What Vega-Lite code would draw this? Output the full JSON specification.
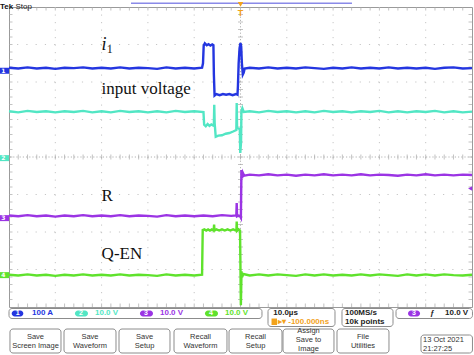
{
  "$schema": "https://vega.github.io/schema/vega-lite/v6.json",
  "width": 463,
  "height": 300,
  "autosize": {"type": "none"},
  "padding": {"left": 9, "top": 7, "right": 2, "bottom": 48},
  "background": "white",
  "config": {"view": {"stroke": "#9a9a9a", "strokeWidth": 1}, "axis": {"disable": true}},
  "datasets": {
    "gx": [-4, -3, -2, -1, 1, 2, 3, 4],
    "gy": [-3, -2, -1, 1, 2, 3],
    "mx": [-4.8, -4.6, -4.4, -4.2, -4, -3.8, -3.6, -3.4, -3.2, -3, -2.8, -2.6, -2.4, -2.2, -2, -1.8, -1.6, -1.4, -1.2, -1, -0.8, -0.6, -0.4, -0.2, 0, 0.2, 0.4, 0.6, 0.8, 1, 1.2, 1.4, 1.6, 1.8, 2, 2.2, 2.4, 2.6, 2.8, 3, 3.2, 3.4, 3.6, 3.8, 4, 4.2, 4.4, 4.6, 4.8],
    "my": [-3.8, -3.6, -3.4, -3.2, -3, -2.8, -2.6, -2.4, -2.2, -2, -1.8, -1.6, -1.4, -1.2, -1, -0.8, -0.6, -0.4, -0.2, 0, 0.2, 0.4, 0.6, 0.8, 1, 1.2, 1.4, 1.6, 1.8, 2, 2.2, 2.4, 2.6, 2.8, 3, 3.2, 3.4, 3.6, 3.8],
    "w": [
      {"c":"1","t":-5,"v":2.38},{"c":"1","t":-4.8,"v":2.36},{"c":"1","t":-4.6,"v":2.39},{"c":"1","t":-4.4,"v":2.36},{"c":"1","t":-4.2,"v":2.38},{"c":"1","t":-4,"v":2.35},{"c":"1","t":-3.8,"v":2.38},{"c":"1","t":-3.6,"v":2.37},{"c":"1","t":-3.4,"v":2.39},{"c":"1","t":-3.2,"v":2.36},{"c":"1","t":-3,"v":2.38},{"c":"1","t":-2.8,"v":2.36},{"c":"1","t":-2.6,"v":2.39},{"c":"1","t":-2.4,"v":2.36},{"c":"1","t":-2.2,"v":2.38},{"c":"1","t":-2,"v":2.37},{"c":"1","t":-1.8,"v":2.35},{"c":"1","t":-1.6,"v":2.39},{"c":"1","t":-1.4,"v":2.36},{"c":"1","t":-1.2,"v":2.38},{"c":"1","t":-1,"v":2.36},{"c":"1","t":-0.83,"v":2.38},{"c":"1","t":-0.81,"v":2.5},{"c":"1","t":-0.795,"v":2.97},{"c":"1","t":-0.77,"v":3.03},{"c":"1","t":-0.73,"v":2.98},{"c":"1","t":-0.69,"v":3.01},{"c":"1","t":-0.65,"v":2.97},{"c":"1","t":-0.61,"v":3.0},{"c":"1","t":-0.585,"v":2.98},{"c":"1","t":-0.575,"v":2.2},{"c":"1","t":-0.56,"v":1.64},{"c":"1","t":-0.52,"v":1.68},{"c":"1","t":-0.45,"v":1.65},{"c":"1","t":-0.38,"v":1.68},{"c":"1","t":-0.31,"v":1.66},{"c":"1","t":-0.24,"v":1.68},{"c":"1","t":-0.17,"v":1.65},{"c":"1","t":-0.1,"v":1.68},{"c":"1","t":-0.065,"v":1.66},{"c":"1","t":-0.055,"v":1.9},{"c":"1","t":-0.04,"v":2.5},{"c":"1","t":-0.02,"v":2.9},{"c":"1","t":0,"v":3.04},{"c":"1","t":0.015,"v":2.95},{"c":"1","t":0.03,"v":2.5},{"c":"1","t":0.05,"v":2.2},{"c":"1","t":0.07,"v":2.25},{"c":"1","t":0.09,"v":2.36},{"c":"1","t":0.2,"v":2.38},{"c":"1","t":0.4,"v":2.36},{"c":"1","t":0.6,"v":2.39},{"c":"1","t":0.8,"v":2.36},{"c":"1","t":1,"v":2.38},{"c":"1","t":1.2,"v":2.36},{"c":"1","t":1.4,"v":2.39},{"c":"1","t":1.6,"v":2.37},{"c":"1","t":1.8,"v":2.35},{"c":"1","t":2,"v":2.38},{"c":"1","t":2.2,"v":2.36},{"c":"1","t":2.4,"v":2.39},{"c":"1","t":2.6,"v":2.36},{"c":"1","t":2.8,"v":2.38},{"c":"1","t":3,"v":2.36},{"c":"1","t":3.2,"v":2.39},{"c":"1","t":3.4,"v":2.36},{"c":"1","t":3.6,"v":2.38},{"c":"1","t":3.8,"v":2.36},{"c":"1","t":4,"v":2.38},{"c":"1","t":4.2,"v":2.35},{"c":"1","t":4.4,"v":2.38},{"c":"1","t":4.6,"v":2.39},{"c":"1","t":4.8,"v":2.36},{"c":"1","t":5,"v":2.37},
      {"c":"2","t":-5,"v":1.22},{"c":"2","t":-4.8,"v":1.19},{"c":"2","t":-4.6,"v":1.23},{"c":"2","t":-4.4,"v":1.2},{"c":"2","t":-4.2,"v":1.22},{"c":"2","t":-4,"v":1.19},{"c":"2","t":-3.8,"v":1.22},{"c":"2","t":-3.6,"v":1.2},{"c":"2","t":-3.4,"v":1.23},{"c":"2","t":-3.2,"v":1.19},{"c":"2","t":-3,"v":1.22},{"c":"2","t":-2.8,"v":1.19},{"c":"2","t":-2.6,"v":1.23},{"c":"2","t":-2.4,"v":1.2},{"c":"2","t":-2.2,"v":1.22},{"c":"2","t":-2,"v":1.19},{"c":"2","t":-1.8,"v":1.22},{"c":"2","t":-1.6,"v":1.19},{"c":"2","t":-1.4,"v":1.23},{"c":"2","t":-1.2,"v":1.2},{"c":"2","t":-1,"v":1.22},{"c":"2","t":-0.8,"v":1.2},{"c":"2","t":-0.785,"v":0.86},{"c":"2","t":-0.75,"v":0.82},{"c":"2","t":-0.71,"v":0.88},{"c":"2","t":-0.67,"v":0.83},{"c":"2","t":-0.63,"v":0.87},{"c":"2","t":-0.59,"v":0.84},{"c":"2","t":-0.575,"v":0.86},{"c":"2","t":-0.567,"v":1.39},{"c":"2","t":-0.558,"v":0.9},{"c":"2","t":-0.535,"v":0.54},{"c":"2","t":-0.48,"v":0.57},{"c":"2","t":-0.4,"v":0.58},{"c":"2","t":-0.32,"v":0.62},{"c":"2","t":-0.24,"v":0.64},{"c":"2","t":-0.16,"v":0.68},{"c":"2","t":-0.09,"v":0.72},{"c":"2","t":-0.082,"v":1.44},{"c":"2","t":-0.074,"v":0.78},{"c":"2","t":-0.04,"v":0.76},{"c":"2","t":-0.015,"v":0.74},{"c":"2","t":-0.005,"v":0.11},{"c":"2","t":0.012,"v":0.4},{"c":"2","t":0.02,"v":1.22},{"c":"2","t":0.04,"v":1.3},{"c":"2","t":0.07,"v":1.2},{"c":"2","t":0.2,"v":1.22},{"c":"2","t":0.4,"v":1.19},{"c":"2","t":0.6,"v":1.23},{"c":"2","t":0.8,"v":1.2},{"c":"2","t":1,"v":1.22},{"c":"2","t":1.2,"v":1.19},{"c":"2","t":1.4,"v":1.22},{"c":"2","t":1.6,"v":1.19},{"c":"2","t":1.8,"v":1.23},{"c":"2","t":2,"v":1.2},{"c":"2","t":2.2,"v":1.22},{"c":"2","t":2.4,"v":1.19},{"c":"2","t":2.6,"v":1.22},{"c":"2","t":2.8,"v":1.2},{"c":"2","t":3,"v":1.23},{"c":"2","t":3.2,"v":1.19},{"c":"2","t":3.4,"v":1.22},{"c":"2","t":3.6,"v":1.19},{"c":"2","t":3.8,"v":1.22},{"c":"2","t":4,"v":1.2},{"c":"2","t":4.2,"v":1.23},{"c":"2","t":4.4,"v":1.19},{"c":"2","t":4.6,"v":1.22},{"c":"2","t":4.8,"v":1.19},{"c":"2","t":5,"v":1.21},
      {"c":"3","t":-5,"v":-1.56},{"c":"3","t":-4.8,"v":-1.58},{"c":"3","t":-4.6,"v":-1.55},{"c":"3","t":-4.4,"v":-1.58},{"c":"3","t":-4.2,"v":-1.56},{"c":"3","t":-4,"v":-1.59},{"c":"3","t":-3.8,"v":-1.56},{"c":"3","t":-3.6,"v":-1.58},{"c":"3","t":-3.4,"v":-1.55},{"c":"3","t":-3.2,"v":-1.58},{"c":"3","t":-3,"v":-1.56},{"c":"3","t":-2.8,"v":-1.58},{"c":"3","t":-2.6,"v":-1.55},{"c":"3","t":-2.4,"v":-1.58},{"c":"3","t":-2.2,"v":-1.56},{"c":"3","t":-2,"v":-1.57},{"c":"3","t":-1.8,"v":-1.59},{"c":"3","t":-1.6,"v":-1.55},{"c":"3","t":-1.4,"v":-1.58},{"c":"3","t":-1.2,"v":-1.56},{"c":"3","t":-1,"v":-1.58},{"c":"3","t":-0.8,"v":-1.56},{"c":"3","t":-0.6,"v":-1.58},{"c":"3","t":-0.4,"v":-1.55},{"c":"3","t":-0.2,"v":-1.57},{"c":"3","t":-0.09,"v":-1.56},{"c":"3","t":-0.082,"v":-1.23},{"c":"3","t":-0.074,"v":-1.58},{"c":"3","t":-0.04,"v":-1.56},{"c":"3","t":-0.01,"v":-1.58},{"c":"3","t":0.008,"v":-1.62},{"c":"3","t":0.02,"v":-0.35},{"c":"3","t":0.035,"v":-0.56},{"c":"3","t":0.05,"v":-0.42},{"c":"3","t":0.08,"v":-0.5},{"c":"3","t":0.2,"v":-0.47},{"c":"3","t":0.4,"v":-0.49},{"c":"3","t":0.6,"v":-0.46},{"c":"3","t":0.8,"v":-0.49},{"c":"3","t":1,"v":-0.47},{"c":"3","t":1.2,"v":-0.5},{"c":"3","t":1.4,"v":-0.47},{"c":"3","t":1.6,"v":-0.49},{"c":"3","t":1.8,"v":-0.46},{"c":"3","t":2,"v":-0.49},{"c":"3","t":2.2,"v":-0.47},{"c":"3","t":2.4,"v":-0.49},{"c":"3","t":2.6,"v":-0.46},{"c":"3","t":2.8,"v":-0.49},{"c":"3","t":3,"v":-0.47},{"c":"3","t":3.2,"v":-0.48},{"c":"3","t":3.4,"v":-0.5},{"c":"3","t":3.6,"v":-0.47},{"c":"3","t":3.8,"v":-0.49},{"c":"3","t":4,"v":-0.46},{"c":"3","t":4.2,"v":-0.49},{"c":"3","t":4.4,"v":-0.47},{"c":"3","t":4.6,"v":-0.49},{"c":"3","t":4.8,"v":-0.47},{"c":"3","t":5,"v":-0.48},
      {"c":"4","t":-5,"v":-3.14},{"c":"4","t":-4.8,"v":-3.16},{"c":"4","t":-4.6,"v":-3.13},{"c":"4","t":-4.4,"v":-3.16},{"c":"4","t":-4.2,"v":-3.14},{"c":"4","t":-4,"v":-3.17},{"c":"4","t":-3.8,"v":-3.14},{"c":"4","t":-3.6,"v":-3.16},{"c":"4","t":-3.4,"v":-3.13},{"c":"4","t":-3.2,"v":-3.16},{"c":"4","t":-3,"v":-3.14},{"c":"4","t":-2.8,"v":-3.16},{"c":"4","t":-2.6,"v":-3.13},{"c":"4","t":-2.4,"v":-3.16},{"c":"4","t":-2.2,"v":-3.14},{"c":"4","t":-2,"v":-3.15},{"c":"4","t":-1.8,"v":-3.17},{"c":"4","t":-1.6,"v":-3.13},{"c":"4","t":-1.4,"v":-3.16},{"c":"4","t":-1.2,"v":-3.14},{"c":"4","t":-1,"v":-3.16},{"c":"4","t":-0.83,"v":-3.14},{"c":"4","t":-0.816,"v":-1.95},{"c":"4","t":-0.78,"v":-1.93},{"c":"4","t":-0.74,"v":-1.96},{"c":"4","t":-0.7,"v":-1.93},{"c":"4","t":-0.66,"v":-1.96},{"c":"4","t":-0.62,"v":-1.93},{"c":"4","t":-0.58,"v":-1.96},{"c":"4","t":-0.57,"v":-1.8},{"c":"4","t":-0.562,"v":-1.96},{"c":"4","t":-0.52,"v":-1.93},{"c":"4","t":-0.46,"v":-1.96},{"c":"4","t":-0.4,"v":-1.93},{"c":"4","t":-0.34,"v":-1.96},{"c":"4","t":-0.28,"v":-1.93},{"c":"4","t":-0.22,"v":-1.96},{"c":"4","t":-0.16,"v":-1.93},{"c":"4","t":-0.1,"v":-1.96},{"c":"4","t":-0.088,"v":-1.94},{"c":"4","t":-0.082,"v":-1.72},{"c":"4","t":-0.075,"v":-1.97},{"c":"4","t":-0.04,"v":-1.93},{"c":"4","t":-0.01,"v":-1.96},{"c":"4","t":0.008,"v":-3.95},{"c":"4","t":0.022,"v":-3.05},{"c":"4","t":0.035,"v":-3.2},{"c":"4","t":0.06,"v":-3.12},{"c":"4","t":0.2,"v":-3.16},{"c":"4","t":0.4,"v":-3.13},{"c":"4","t":0.6,"v":-3.16},{"c":"4","t":0.8,"v":-3.13},{"c":"4","t":1,"v":-3.15},{"c":"4","t":1.2,"v":-3.17},{"c":"4","t":1.4,"v":-3.13},{"c":"4","t":1.6,"v":-3.16},{"c":"4","t":1.8,"v":-3.13},{"c":"4","t":2,"v":-3.16},{"c":"4","t":2.2,"v":-3.14},{"c":"4","t":2.4,"v":-3.16},{"c":"4","t":2.6,"v":-3.13},{"c":"4","t":2.8,"v":-3.16},{"c":"4","t":3,"v":-3.13},{"c":"4","t":3.2,"v":-3.15},{"c":"4","t":3.4,"v":-3.17},{"c":"4","t":3.6,"v":-3.13},{"c":"4","t":3.8,"v":-3.16},{"c":"4","t":4,"v":-3.13},{"c":"4","t":4.2,"v":-3.16},{"c":"4","t":4.4,"v":-3.13},{"c":"4","t":4.6,"v":-3.15},{"c":"4","t":4.8,"v":-3.16},{"c":"4","t":5,"v":-3.14}
    ],
    "mk": [{"c":"1","v":2.3,"n":"1"},{"c":"2","v":-0.03,"n":"2"},{"c":"3","v":-1.63,"n":"3"},{"c":"4","v":-3.15,"n":"4"}],
    "lab": [{"t":-3.0,"v":1.68,"text":"input voltage"},{"t":-3.0,"v":-1.16,"text":"R"},{"t":-3.0,"v":-2.707,"text":"Q-EN"}],
    "frames": [
      {"x1":-5.0,"x2":0.464,"y1":-4.04,"y2":-4.307},
      {"x1":0.594,"x2":2.041,"y1":-4.04,"y2":-4.52},
      {"x1":2.192,"x2":3.294,"y1":-4.04,"y2":-4.52},
      {"x1":3.359,"x2":5.01,"y1":-4.04,"y2":-4.307},
      {"x1":-4.979,"x2":-3.877,"y1":-4.587,"y2":-5.227},
      {"x1":-3.812,"x2":-2.689,"y1":-4.587,"y2":-5.227},
      {"x1":-2.624,"x2":-1.523,"y1":-4.587,"y2":-5.227},
      {"x1":-1.436,"x2":-0.292,"y1":-4.587,"y2":-5.227},
      {"x1":-0.248,"x2":0.896,"y1":-4.587,"y2":-5.227},
      {"x1":0.918,"x2":2.019,"y1":-4.587,"y2":-5.227},
      {"x1":2.084,"x2":3.207,"y1":-4.587,"y2":-5.227},
      {"x1":3.898,"x2":5.01,"y1":-4.747,"y2":-5.227}
    ],
    "pills": [
      {"c":"1","x1":-4.941,"x2":-4.691,"n":"1"},
      {"c":"2","x1":-3.575,"x2":-3.294,"n":"2"},
      {"c":"3","x1":-2.171,"x2":-1.89,"n":"3"},
      {"c":"4","x1":-0.767,"x2":-0.486,"n":"4"},
      {"c":"3","x1":3.618,"x2":3.877,"n":"3"}
    ],
    "ro": [
      {"c":"1","t":-4.503,"text":"100 A"},
      {"c":"2","t":-3.143,"text":"10.0 V"},
      {"c":"3","t":-1.739,"text":"10.0 V"},
      {"c":"4","t":-0.335,"text":"10.0 V"}
    ],
    "rk": [
      {"t":0.708,"v":-4.173,"text":"10.0µs"},
      {"t":2.257,"v":-4.173,"text":"100MS/s"},
      {"t":2.257,"v":-4.4,"text":"10k points"},
      {"t":4.093,"v":-4.173,"text":"ƒ"},
      {"t":4.417,"v":-4.173,"text":"10.0 V"}
    ],
    "btn": [
      {"t":-4.428,"v":-4.787,"text":"Save"},{"t":-4.428,"v":-5.027,"text":"Screen Image"},
      {"t":-3.251,"v":-4.787,"text":"Save"},{"t":-3.251,"v":-5.027,"text":"Waveform"},
      {"t":-2.073,"v":-4.787,"text":"Save"},{"t":-2.073,"v":-5.027,"text":"Setup"},
      {"t":-0.864,"v":-4.787,"text":"Recall"},{"t":-0.864,"v":-5.027,"text":"Waveform"},
      {"t":0.324,"v":-4.787,"text":"Recall"},{"t":0.324,"v":-5.027,"text":"Setup"},
      {"t":1.469,"v":-4.653,"text":"Assign"},{"t":1.469,"v":-4.88,"text":"Save to"},{"t":1.469,"v":-5.107,"text":"Image"},
      {"t":2.646,"v":-4.787,"text":"File"},{"t":2.646,"v":-5.027,"text":"Utilities"}
    ],
    "date": [{"t":3.942,"v":-4.88,"text":"13 Oct  2021"},{"t":3.942,"v":-5.12,"text":"21:27:25"}]
  },
  "layer": [
    {
      "data": {"name": "gx"},
      "mark": {"type": "rule", "color": "#c6c6c6", "strokeDash": [1.2, 6.3], "strokeWidth": 1},
      "encoding": {"x": {"field": "data", "type": "quantitative", "scale": {"domain": [-5, 5], "nice": false, "zero": false}}}
    },
    {
      "data": {"name": "gy"},
      "mark": {"type": "rule", "color": "#c6c6c6", "strokeDash": [1.2, 8.06], "strokeWidth": 1},
      "encoding": {"y": {"field": "data", "type": "quantitative", "scale": {"domain": [-4, 4], "nice": false, "zero": false}}}
    },
    {
      "data": {"values": [{}]},
      "mark": {"type": "rule", "color": "#b4b4b4", "strokeDash": [1.2, 2], "strokeWidth": 1},
      "encoding": {"x": {"datum": 0, "type": "quantitative"}}
    },
    {
      "data": {"values": [{}]},
      "mark": {"type": "rule", "color": "#b4b4b4", "strokeDash": [1.2, 2], "strokeWidth": 1},
      "encoding": {"y": {"datum": 0, "type": "quantitative"}}
    },
    {
      "data": {"name": "mx"},
      "mark": {"type": "tick", "orient": "vertical", "size": 5, "thickness": 1, "color": "#aaaaaa"},
      "encoding": {"x": {"field": "data", "type": "quantitative"}, "y": {"datum": 0, "type": "quantitative"}}
    },
    {
      "data": {"name": "my"},
      "mark": {"type": "tick", "orient": "horizontal", "size": 5, "thickness": 1, "color": "#aaaaaa"},
      "encoding": {"y": {"field": "data", "type": "quantitative"}, "x": {"datum": 0, "type": "quantitative"}}
    },
    {
      "data": {"name": "mx"},
      "mark": {"type": "tick", "orient": "vertical", "size": 7, "thickness": 1, "color": "#aaaaaa", "clip": true},
      "encoding": {"x": {"field": "data", "type": "quantitative"}, "y": {"datum": 4, "type": "quantitative"}}
    },
    {
      "data": {"name": "mx"},
      "mark": {"type": "tick", "orient": "vertical", "size": 7, "thickness": 1, "color": "#aaaaaa", "clip": true},
      "encoding": {"x": {"field": "data", "type": "quantitative"}, "y": {"datum": -4, "type": "quantitative"}}
    },
    {
      "data": {"name": "my"},
      "mark": {"type": "tick", "orient": "horizontal", "size": 7, "thickness": 1, "color": "#aaaaaa", "clip": true},
      "encoding": {"y": {"field": "data", "type": "quantitative"}, "x": {"datum": -5, "type": "quantitative"}}
    },
    {
      "data": {"name": "my"},
      "mark": {"type": "tick", "orient": "horizontal", "size": 7, "thickness": 1, "color": "#aaaaaa", "clip": true},
      "encoding": {"y": {"field": "data", "type": "quantitative"}, "x": {"datum": 5, "type": "quantitative"}}
    },
    {
      "data": {"name": "w"},
      "mark": {"type": "line", "strokeWidth": 2.4, "strokeJoin": "miter"},
      "encoding": {
        "x": {"field": "t", "type": "quantitative"},
        "y": {"field": "v", "type": "quantitative"},
        "color": {"field": "c", "type": "nominal", "legend": null, "scale": {"domain": ["1", "2", "3", "4"], "range": ["#2436e0", "#52e6c4", "#9b34e4", "#5fe22c"]}}
      }
    },
    {
      "data": {"name": "mk"},
      "mark": {"type": "tick", "orient": "horizontal", "size": 9, "thickness": 6, "opacity": 1},
      "encoding": {
        "x": {"datum": -5.097, "type": "quantitative"},
        "y": {"field": "v", "type": "quantitative"},
        "color": {"field": "c", "type": "nominal", "legend": null}
      }
    },
    {
      "data": {"name": "mk"},
      "mark": {"type": "text", "fontSize": 6, "font": "DejaVu Sans", "fontWeight": "bold", "color": "white", "baseline": "middle", "align": "center"},
      "encoding": {
        "x": {"datum": -5.12, "type": "quantitative"},
        "y": {"field": "v", "type": "quantitative"},
        "text": {"field": "n"}
      }
    },
    {
      "data": {"values": [{}]},
      "mark": {"type": "point", "shape": "triangle-left", "filled": true, "size": 22, "color": "#9b34e4", "opacity": 1},
      "encoding": {"x": {"datum": 4.96, "type": "quantitative"}, "y": {"datum": -0.84, "type": "quantitative"}}
    },
    {
      "data": {"name": "lab"},
      "mark": {"type": "text", "font": "Liberation Serif", "fontSize": 17, "color": "#111111", "align": "left", "baseline": "alphabetic"},
      "encoding": {"x": {"field": "t", "type": "quantitative"}, "y": {"field": "v", "type": "quantitative"}, "text": {"field": "text"}}
    },
    {
      "data": {"values": [{"t": -3.0, "v": 2.853, "text": "i"}]},
      "mark": {"type": "text", "font": "Liberation Serif", "fontStyle": "italic", "fontSize": 18, "color": "#111111", "align": "left", "baseline": "alphabetic"},
      "encoding": {"x": {"field": "t", "type": "quantitative"}, "y": {"field": "v", "type": "quantitative"}, "text": {"field": "text"}}
    },
    {
      "data": {"values": [{"t": -2.887, "v": 2.773, "text": "1"}]},
      "mark": {"type": "text", "font": "Liberation Serif", "fontSize": 12, "color": "#111111", "align": "left", "baseline": "alphabetic"},
      "encoding": {"x": {"field": "t", "type": "quantitative"}, "y": {"field": "v", "type": "quantitative"}, "text": {"field": "text"}}
    },
    {
      "data": {"values": [{"t": -5.194, "v": 3.96, "text": "Tek"}]},
      "mark": {"type": "text", "font": "Liberation Sans", "fontWeight": "bold", "fontSize": 8, "color": "#111111", "align": "left", "baseline": "alphabetic"},
      "encoding": {"x": {"field": "t", "type": "quantitative"}, "y": {"field": "v", "type": "quantitative"}, "text": {"field": "text"}}
    },
    {
      "data": {"values": [{"t": -4.86, "v": 3.96, "text": "Stop"}]},
      "mark": {"type": "text", "font": "Liberation Sans", "fontSize": 8, "color": "#222222", "align": "left", "baseline": "alphabetic"},
      "encoding": {"x": {"field": "t", "type": "quantitative"}, "y": {"field": "v", "type": "quantitative"}, "text": {"field": "text"}}
    },
    {
      "data": {"values": [{}]},
      "mark": {"type": "rule", "color": "#8a8ae8", "strokeWidth": 1.5},
      "encoding": {"x": {"datum": -2.365, "type": "quantitative"}, "x2": {"datum": 2.408}, "y": {"datum": 4.1, "type": "quantitative"}}
    },
    {
      "data": {"values": [{}]},
      "mark": {"type": "point", "shape": "triangle-down", "filled": true, "size": 30, "color": "#f2a21c", "opacity": 1},
      "encoding": {"x": {"datum": 0, "type": "quantitative"}, "y": {"datum": 4.07, "type": "quantitative"}}
    },
    {
      "data": {"values": [{"t": 0, "v": 3.83, "text": "T"}]},
      "mark": {"type": "text", "font": "Liberation Sans", "fontWeight": "bold", "fontSize": 9, "color": "#f2a21c", "align": "center", "baseline": "middle"},
      "encoding": {"x": {"field": "t", "type": "quantitative"}, "y": {"field": "v", "type": "quantitative"}, "text": {"field": "text"}}
    },
    {
      "data": {"name": "frames"},
      "mark": {"type": "rect", "fill": "white", "stroke": "#8c8c8c", "strokeWidth": 1, "cornerRadius": 3},
      "encoding": {
        "x": {"field": "x1", "type": "quantitative"}, "x2": {"field": "x2"},
        "y": {"field": "y1", "type": "quantitative"}, "y2": {"field": "y2"}
      }
    },
    {
      "data": {"name": "pills"},
      "mark": {"type": "rect", "cornerRadius": 3.5, "opacity": 1},
      "encoding": {
        "x": {"field": "x1", "type": "quantitative"}, "x2": {"field": "x2"},
        "y": {"datum": -4.093, "type": "quantitative"}, "y2": {"datum": -4.253},
        "color": {"field": "c", "type": "nominal", "legend": null}
      }
    },
    {
      "data": {"name": "pills"},
      "mark": {"type": "text", "font": "Liberation Sans", "fontWeight": "bold", "fontSize": 7, "color": "white", "align": "center", "baseline": "middle"},
      "encoding": {
        "x": {"field": "x1", "type": "quantitative"},
        "xOffset": {"value": 6},
        "y": {"datum": -4.173, "type": "quantitative"},
        "text": {"field": "n"}
      }
    },
    {
      "data": {"name": "ro"},
      "mark": {"type": "text", "font": "Liberation Sans", "fontWeight": "bold", "fontSize": 8, "align": "left", "baseline": "middle"},
      "encoding": {
        "x": {"field": "t", "type": "quantitative"},
        "y": {"datum": -4.173, "type": "quantitative"},
        "text": {"field": "text"},
        "color": {"field": "c", "type": "nominal", "legend": null}
      }
    },
    {
      "data": {"name": "rk"},
      "mark": {"type": "text", "font": "Liberation Sans", "fontWeight": "bold", "fontSize": 8, "align": "left", "baseline": "middle", "color": "#222222"},
      "encoding": {
        "x": {"field": "t", "type": "quantitative"},
        "y": {"field": "v", "type": "quantitative"},
        "text": {"field": "text"}
      }
    },
    {
      "data": {"values": [{}]},
      "mark": {"type": "rect", "color": "#f2a21c", "opacity": 1},
      "encoding": {"x": {"datum": 0.67, "type": "quantitative"}, "x2": {"datum": 0.788}, "y": {"datum": -4.307, "type": "quantitative"}, "y2": {"datum": -4.48}}
    },
    {
      "data": {"values": [{"t": 0.81, "v": -4.4, "text": "▸▾ -100.000ns"}]},
      "mark": {"type": "text", "font": "Liberation Sans", "fontWeight": "bold", "fontSize": 8, "align": "left", "baseline": "middle", "color": "#f2a21c"},
      "encoding": {"x": {"field": "t", "type": "quantitative"}, "y": {"field": "v", "type": "quantitative"}, "text": {"field": "text"}}
    },
    {
      "data": {"name": "btn"},
      "mark": {"type": "text", "font": "Liberation Sans", "fontSize": 7.5, "align": "center", "baseline": "middle", "color": "#333333"},
      "encoding": {"x": {"field": "t", "type": "quantitative"}, "y": {"field": "v", "type": "quantitative"}, "text": {"field": "text"}}
    },
    {
      "data": {"name": "date"},
      "mark": {"type": "text", "font": "Liberation Sans", "fontSize": 7.5, "align": "left", "baseline": "middle", "color": "#333333"},
      "encoding": {"x": {"field": "t", "type": "quantitative"}, "y": {"field": "v", "type": "quantitative"}, "text": {"field": "text"}}
    }
  ]
}
